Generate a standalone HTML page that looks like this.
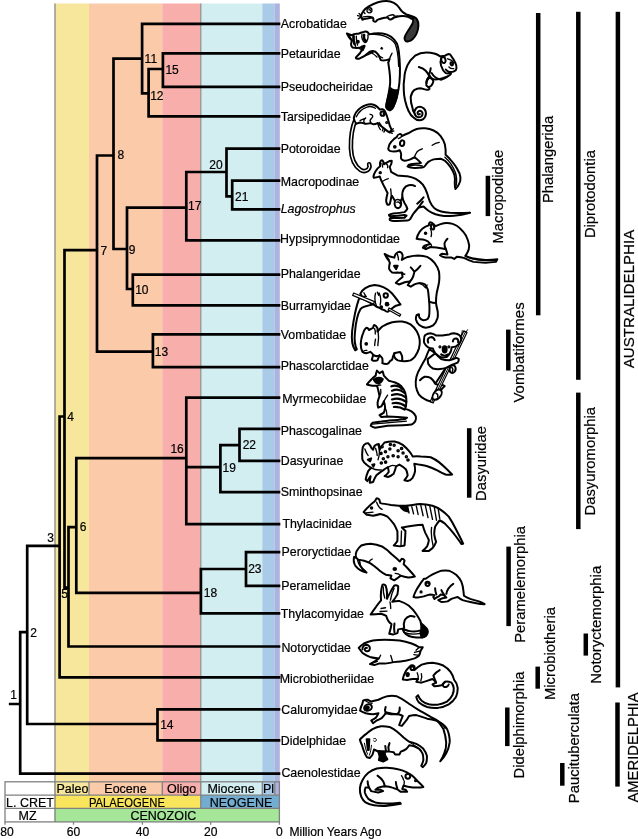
<!DOCTYPE html>
<html><head><meta charset="utf-8"><title>Marsupial phylogeny</title>
<style>
html,body{margin:0;padding:0;background:#fff;overflow:hidden;}
svg{display:block;font-family:"Liberation Sans",Arial,Helvetica,sans-serif;}
.t{font-size:12.4px;fill:#000;stroke:#000;stroke-width:0.2;}
.n{font-size:12px;fill:#000;stroke:#000;stroke-width:0.2;}
.r{font-size:14.8px;fill:#000;stroke:#000;stroke-width:0.2;}
.s{font-size:12.5px;fill:#000;stroke:#000;stroke-width:0.2;}
.x{font-size:12.1px;fill:#000;stroke:#000;stroke-width:0.2;}
.a path,.a ellipse,.a circle{stroke:#000;stroke-width:2;fill:#fff;stroke-linejoin:round;stroke-linecap:round;vector-effect:non-scaling-stroke;}
.a .k{fill:#000;}
.a .o{fill:none;}
.a .d{stroke-width:1.35;fill:none;}
</style></head><body>
<svg width="638" height="839" viewBox="0 0 638 839">
<rect width="638" height="839" fill="#fff"/>

<rect x="54.5" y="3.5" width="34.5" height="778.3" fill="#f6e79d"/>
<rect x="89" y="3.5" width="73.3" height="778.3" fill="#fbcaa9"/>
<rect x="162.3" y="3.5" width="38.5" height="778.3" fill="#f8aeaa"/>
<rect x="200.8" y="3.5" width="61.5" height="778.3" fill="#d3eef1"/>
<rect x="262.3" y="3.5" width="12.5" height="778.3" fill="#a9cbe8"/>
<rect x="274.8" y="3.5" width="5.0" height="778.3" fill="#adb2de"/>
<line x1="55" y1="3.5" x2="55" y2="781.8" stroke="#8c8c8c" stroke-width="1.3"/>
<line x1="200.8" y1="3.5" x2="200.8" y2="781.8" stroke="#8f8f8f" stroke-width="1.2"/>
<rect x="5" y="781.8" width="274.4" height="40.1" fill="#fff"/>
<rect x="54.5" y="781.8" width="34.5" height="13.3" fill="#f6e79d"/>
<rect x="89" y="781.8" width="73.3" height="13.3" fill="#fbcaa9"/>
<rect x="162.3" y="781.8" width="38.5" height="13.3" fill="#f8aeaa"/>
<rect x="200.8" y="781.8" width="61.5" height="13.3" fill="#d3eef1"/>
<rect x="262.3" y="781.8" width="12.5" height="13.3" fill="#a9cbe8"/>
<rect x="274.8" y="781.8" width="4.6" height="13.3" fill="#adb2de"/>
<rect x="54.5" y="795.1" width="146.3" height="13.3" fill="#f8e55c"/>
<rect x="200.8" y="795.1" width="78.6" height="13.3" fill="#72acd0"/>
<rect x="54.5" y="808.4" width="224.9" height="13.5" fill="#a5e699"/>
<g stroke="#808080" stroke-width="1.3" fill="none">
<rect x="5" y="781.8" width="274.4" height="40.1"/>
<line x1="5" y1="795.1" x2="279.4" y2="795.1"/><line x1="5" y1="808.4" x2="279.4" y2="808.4"/>
<line x1="55" y1="781.8" x2="55" y2="821.9"/>
<line x1="89" y1="781.8" x2="89" y2="795.1"/>
<line x1="162.3" y1="781.8" x2="162.3" y2="795.1"/>
<line x1="200.8" y1="781.8" x2="200.8" y2="795.1"/>
<line x1="262.3" y1="781.8" x2="262.3" y2="795.1"/>
<line x1="274.8" y1="781.8" x2="274.8" y2="795.1"/>
<line x1="200.8" y1="795.1" x2="200.8" y2="808.4"/>
<line x1="5" y1="821.9" x2="5" y2="824.6999999999999"/>
<line x1="73.5" y1="821.9" x2="73.5" y2="824.6999999999999"/>
<line x1="142.4" y1="821.9" x2="142.4" y2="824.6999999999999"/>
<line x1="210.7" y1="821.9" x2="210.7" y2="824.6999999999999"/>
<line x1="279.4" y1="821.9" x2="279.4" y2="824.6999999999999"/>
</g>
<text x="72.5" y="792.6" class="s" text-anchor="middle">Paleo</text>
<text x="125.5" y="792.6" class="s" text-anchor="middle">Eocene</text>
<text x="181.5" y="792.6" class="s" text-anchor="middle">Oligo</text>
<text x="231" y="792.6" class="s" text-anchor="middle">Miocene</text>
<text x="268.5" y="792.6" class="s" text-anchor="middle">Pl</text>
<text x="30" y="806.7" class="s" text-anchor="middle">L. CRET</text>
<text x="27.5" y="819.6" class="s" text-anchor="middle">MZ</text>
<text x="126.9" y="806.9" class="s" text-anchor="middle" textLength="76" lengthAdjust="spacingAndGlyphs">PALAEOGENE</text>
<text x="241" y="806.9" class="s" text-anchor="middle">NEOGENE</text>
<text x="163.4" y="820" class="s" text-anchor="middle">CENOZOIC</text>
<text x="0.2" y="835.7" class="x" text-anchor="start">80</text>
<text x="73.5" y="835.7" class="x" text-anchor="middle">60</text>
<text x="142.4" y="835.7" class="x" text-anchor="middle">40</text>
<text x="210.7" y="835.7" class="x" text-anchor="middle">20</text>
<text x="279.4" y="835.7" class="x" text-anchor="middle">0</text>
<text x="289.4" y="835.7" class="x" text-anchor="start">Million Years Ago</text>
<g stroke="#000" stroke-width="2.7" stroke-linecap="square" fill="none">
<path d="M10.2 704L20.2 704M20.2 632.1L20.2 773.7M20.2 773.7L279 773.7M20.2 632.1L27.2 632.1M27.2 545.9L27.2 724M27.2 545.9L59.6 545.9M27.2 724L157.5 724M157.5 709.3L157.5 740.4M157.5 709.3L279 709.3M157.5 740.4L279 740.4M59.6 416.5L59.6 677.4M59.6 677.4L279 677.4M59.6 416.5L64.5 416.5M64.5 250.1L64.5 587.7M64.5 250.1L97 250.1M64.5 587.7L68.5 587.7M68.5 527.1L68.5 646.5M68.5 646.5L279 646.5M68.5 527.1L76.3 527.1M76.3 458.2L76.3 592.9M76.3 458.2L186.3 458.2M76.3 592.9L200.9 592.9M186.3 397.6L186.3 524.1M186.3 397.6L279 397.6M186.3 524.1L279 524.1M186.3 467.1L220.4 467.1M220.4 445.1L220.4 492.2M220.4 492.2L279 492.2M220.4 445.1L239.5 445.1M239.5 428.8L239.5 460.9M239.5 428.8L279 428.8M239.5 460.9L279 460.9M200.9 569L200.9 613.4M200.9 613.4L279 613.4M200.9 569L246 569M246 552.2L246 585.8M246 552.2L279 552.2M246 585.8L279 585.8M97 155.5L97 351.7M97 155.5L113.5 155.5M97 351.7L152.9 351.7M152.9 334.4L152.9 367.1M152.9 334.4L279 334.4M152.9 367.1L279 367.1M113.5 58.7L113.5 249M113.5 58.7L142.1 58.7M113.5 249L127 249M142.1 23.8L142.1 93.3M142.1 23.8L279 23.8M142.1 93.3L148.6 93.3M148.6 69L148.6 116.3M148.6 116.3L279 116.3M148.6 69L162.9 69M162.9 53.4L162.9 86.8M162.9 53.4L279 53.4M162.9 86.8L279 86.8M127 207.7L127 289M127 207.7L186.3 207.7M127 289L132.8 289M132.8 274.6L132.8 305.3M132.8 274.6L279 274.6M132.8 305.3L279 305.3M186.3 172L186.3 240.3M186.3 240.3L279 240.3M186.3 172L226.5 172M226.5 148.7L226.5 196.4M226.5 148.7L279 148.7M226.5 196.4L232.2 196.4M232.2 180.7L232.2 209.3M232.2 180.7L279 180.7M232.2 209.3L279 209.3"/>
</g>
<text x="10.3" y="698.5" class="n" text-anchor="start">1</text>
<text x="30.3" y="636.8" class="n" text-anchor="start">2</text>
<text x="47.2" y="541.9" class="n" text-anchor="start">3</text>
<text x="67.2" y="420.8" class="n" text-anchor="start">4</text>
<text x="61.2" y="598.4" class="n" text-anchor="start">5</text>
<text x="79.8" y="531.1" class="n" text-anchor="start">6</text>
<text x="100.4" y="255.1" class="n" text-anchor="start">7</text>
<text x="117.4" y="158.5" class="n" text-anchor="start">8</text>
<text x="128.8" y="254.4" class="n" text-anchor="start">9</text>
<text x="135.2" y="294" class="n" text-anchor="start">10</text>
<text x="144.6" y="63.2" class="n" text-anchor="start">11</text>
<text x="150.2" y="99.6" class="n" text-anchor="start">12</text>
<text x="154.8" y="356" class="n" text-anchor="start">13</text>
<text x="160.2" y="728.6" class="n" text-anchor="start">14</text>
<text x="165.4" y="74.2" class="n" text-anchor="start">15</text>
<text x="170.4" y="453.1" class="n" text-anchor="start">16</text>
<text x="188" y="210" class="n" text-anchor="start">17</text>
<text x="203.8" y="596.8" class="n" text-anchor="start">18</text>
<text x="222.6" y="471.9" class="n" text-anchor="start">19</text>
<text x="209.3" y="169.3" class="n" text-anchor="start">20</text>
<text x="235.1" y="201.4" class="n" text-anchor="start">21</text>
<text x="242.7" y="449.3" class="n" text-anchor="start">22</text>
<text x="248.2" y="573" class="n" text-anchor="start">23</text>
<text x="280.7" y="28.1" class="t" text-anchor="start">Acrobatidae</text>
<text x="280.7" y="57.7" class="t" text-anchor="start">Petauridae</text>
<text x="280.7" y="91.1" class="t" text-anchor="start">Pseudocheiridae</text>
<text x="280.7" y="120.6" class="t" text-anchor="start">Tarsipedidae</text>
<text x="280.7" y="152.6" class="t" text-anchor="start">Potoroidae</text>
<text x="280.7" y="185.6" class="t" text-anchor="start">Macropodinae</text>
<text x="280.7" y="213.0" class="t" text-anchor="start" font-style="italic">Lagostrophus</text>
<text x="280.1" y="243.3" class="t" text-anchor="start">Hypsiprymnodontidae</text>
<text x="280.7" y="278.0" class="t" text-anchor="start">Phalangeridae</text>
<text x="280.7" y="309.6" class="t" text-anchor="start">Burramyidae</text>
<text x="280.7" y="338.7" class="t" text-anchor="start">Vombatidae</text>
<text x="280.7" y="370.1" class="t" text-anchor="start">Phascolarctidae</text>
<text x="282.3" y="402.7" class="t" text-anchor="start">Myrmecobiidae</text>
<text x="280.7" y="435.3" class="t" text-anchor="start">Phascogalinae</text>
<text x="280.7" y="465.3" class="t" text-anchor="start">Dasyurinae</text>
<text x="280.7" y="495.6" class="t" text-anchor="start">Sminthopsinae</text>
<text x="282.4" y="528.0" class="t" text-anchor="start">Thylacinidae</text>
<text x="281.6" y="556.1" class="t" text-anchor="start">Peroryctidae</text>
<text x="281.2" y="590.1" class="t" text-anchor="start">Peramelidae</text>
<text x="280.7" y="617.7" class="t" text-anchor="start">Thylacomyidae</text>
<text x="281.4" y="651.5" class="t" text-anchor="start">Notoryctidae</text>
<text x="279.8" y="682.8" class="t" text-anchor="start">Microbiotheriidae</text>
<text x="281.3" y="713.6" class="t" text-anchor="start">Caluromyidae</text>
<text x="280.7" y="745.2" class="t" text-anchor="start">Didelphidae</text>
<text x="281.4" y="777.3" class="t" text-anchor="start">Caenolestidae</text>
<rect x="485.65" y="175.8" width="4.5" height="40.3" fill="#000"/>
<rect x="535.95" y="13" width="4.5" height="302.3" fill="#000"/>
<rect x="576.05" y="11.8" width="4.5" height="368.0" fill="#000"/>
<rect x="615.65" y="11.8" width="4.5" height="675.6" fill="#000"/>
<rect x="506.05" y="329.6" width="4.5" height="40.9" fill="#000"/>
<rect x="576.05" y="392.6" width="4.5" height="136.5" fill="#000"/>
<rect x="466.95" y="428.2" width="4.5" height="69.5" fill="#000"/>
<rect x="506.35" y="546.6" width="4.5" height="79.5" fill="#000"/>
<rect x="535.45" y="666.6" width="4.5" height="22.1" fill="#000"/>
<rect x="583.55" y="633.5" width="4.5" height="22.1" fill="#000"/>
<rect x="505.05" y="707.5" width="4.5" height="38.6" fill="#000"/>
<rect x="560.05" y="763" width="4.5" height="22.7" fill="#000"/>
<rect x="615.25" y="702.5" width="4.5" height="84.1" fill="#000"/>
<text class="r" transform="translate(502.5 243.5) rotate(-90)">Macropodidae</text>
<text class="r" transform="translate(553.2 203.1) rotate(-90)">Phalangerida</text>
<text class="r" transform="translate(594.6 238.1) rotate(-90)">Diprotodontia</text>
<text class="r" style="font-size:15.1px" transform="translate(634 368.2) rotate(-90)">AUSTRALIDELPHIA</text>
<text class="r" style="font-size:15.05px" transform="translate(524.4 402.6) rotate(-90)">Vombatiformes</text>
<text class="r" transform="translate(594.6 515.5) rotate(-90)">Dasyuromorphia</text>
<text class="r" transform="translate(486.1 500.9) rotate(-90)">Dasyuridae</text>
<text class="r" transform="translate(524.6 642.8) rotate(-90)">Peramelemorphia</text>
<text class="r" transform="translate(554.5 700) rotate(-90)">Microbiotheria</text>
<text class="r" style="font-size:14.95px" transform="translate(600.9 683.7) rotate(-90)">Notoryctemorphia</text>
<text class="r" transform="translate(524.4 778.5) rotate(-90)">Didelphimorphia</text>
<text class="r" transform="translate(578.5 803.2) rotate(-90)">Paucituberculata</text>
<text class="r" transform="translate(638.4 802.6) rotate(-90)">AMERIDELPHIA</text>
<g class="a">
<!-- 1 Acrobatidae -->
<g transform="translate(350,0) scale(0.12539)">
<path d="M88,128 C95,100 115,70 150,50 C190,28 240,8 290,8 C340,8 375,35 395,65 C410,90 425,105 450,115 C480,125 505,130 525,145 L490,150 C470,132 440,128 420,128 C390,128 370,135 350,140 C340,150 320,162 310,150 C305,140 300,138 290,140 C260,145 235,150 215,160 C210,175 195,178 185,165 C190,150 185,140 175,140 C150,145 120,150 105,155 C95,150 88,140 88,128 Z"/>
<path class="k" style="fill:#383838" d="M497,138 C512,135 525,142 533,152 C552,178 548,230 530,270 C515,300 490,325 465,330 C445,335 430,320 436,298 C446,262 480,225 498,190 C506,172 504,152 497,138Z"/>
<circle cx="155" cy="82" r="20" style="stroke-width:1.3"/><path class="d" d="M150,78 C158,74 165,80 162,88"/>
<path class="d" d="M88,130 L60,124 M90,135 L66,150 M92,125 L72,108 M95,140 L98,160"/>
<path class="d" d="M112,100 L120,108 M105,135 C130,130 160,128 180,140 M290,140 C300,125 330,115 350,118 C345,128 355,130 380,128"/>
</g>

<!-- 2 Petauridae -->
<g transform="translate(340,25) scale(0.12539)">
<path d="M55,68 L92,82 C105,72 125,68 145,70 C160,62 175,58 190,55 C205,45 225,55 232,75 C260,68 300,62 340,68 C390,75 430,105 455,150 C472,190 476,260 478,340 C480,420 472,500 455,570 C445,610 425,660 400,680 C380,675 365,660 370,635 C378,590 395,530 400,460 C402,400 392,350 385,300 L395,272 C370,282 345,285 325,280 C318,265 312,245 300,230 C285,210 262,202 235,215 C215,235 185,255 150,270 C135,270 122,268 128,258 C150,240 170,215 185,178 C160,182 125,185 100,180 C88,170 85,150 95,125 C80,110 65,90 55,68Z"/>
<path class="k" d="M400,500 C410,515 440,525 463,518 C458,560 445,610 425,655 C415,672 405,680 398,680 C380,675 365,660 370,635 C378,590 395,545 400,500Z"/>
<path class="d" d="M105,95 C110,120 112,150 125,170 M130,90 C128,115 135,140 140,160 M175,75 C170,100 180,130 200,140 C220,130 228,100 222,80 M195,80 C190,100 195,115 205,120 M60,72 C75,85 85,100 95,120 M150,180 C160,195 175,200 190,180 M235,215 C260,225 280,240 295,255 M200,245 C230,235 255,225 270,210 M300,230 C310,245 320,255 340,262 M395,272 C400,250 410,235 415,225 M385,300 C388,292 392,282 395,272 M330,180 L336,192 M326,188 L340,184 M250,75 C320,68 400,95 440,150 C460,200 466,260 468,330"/>
<circle class="k" cx="142" cy="134" r="8"/>
<path class="o" style="stroke-width:2.6" d="M108,86 C106,110 108,132 116,152 M192,80 C188,100 194,120 208,130 M172,176 L194,168 L180,200"/>
</g>
<!-- 3 Pseudocheiridae -->
<g transform="translate(395,40) scale(0.12539)">
<path d="M250,100 C215,100 185,110 160,125 C130,150 110,180 100,200 C85,235 75,270 75,300 C68,340 68,370 70,400 C70,430 75,455 80,480 C88,515 98,545 110,570 C120,595 135,610 150,620 C165,635 180,640 195,640 C215,640 235,628 243,605 C250,585 245,560 228,545 C210,530 185,530 168,545 C155,560 152,580 160,595 C150,580 140,560 138,535 C130,515 125,480 125,455 C130,430 140,410 152,400 C170,390 185,385 200,385 C220,388 240,395 255,397 C268,398 278,392 275,385 C270,375 258,372 250,362 C245,345 250,330 257,318 C265,300 272,290 280,290 C285,300 292,308 300,310 C320,318 335,315 350,312 C375,308 400,298 420,290 C435,285 442,278 446,270 C448,262 444,256 440,255 C452,256 462,254 470,250 C482,245 490,238 490,228 C492,210 488,195 480,180 C472,160 462,145 450,130 C445,118 437,112 430,112 C420,113 410,118 400,125 C385,127 372,128 360,130 C345,120 332,114 320,110 C295,103 270,100 250,100Z"/>
<path class="o" d="M160,595 C168,615 190,622 207,612 C222,602 224,580 212,570 C200,560 183,565 180,580 C178,592 190,598 198,590"/>
<path class="o" d="M190,215 C215,222 232,230 245,245 C258,260 266,272 270,282 C278,262 283,242 285,225 M280,290 C262,300 250,320 252,345 M370,140 C360,165 362,185 368,205 C378,235 390,252 402,262 C415,268 428,268 440,265 M405,235 C415,250 430,255 440,255"/>
<path class="o" d="M254,326 C258,315 264,308 271,304 C280,302 288,304 293,308 C300,314 305,322 306,330 C303,345 297,356 289,365 C282,370 275,373 267,374 M293,264 C300,278 310,290 324,299 C338,308 352,314 367,317 C386,312 404,303 420,291"/>
<ellipse cx="386" cy="160" rx="17" ry="24" transform="rotate(-15 386 160)"/>
<ellipse cx="452" cy="190" rx="9" ry="13" transform="rotate(-20 452 190)"/>
<path class="d" d="M420,150 C440,155 462,165 470,185 M430,215 C440,225 455,230 468,228"/>
</g>
<!-- 4 Tarsipedidae -->
<g transform="translate(340,98) scale(0.12539)">
<path class="o" style="stroke-width:4.6" d="M125,170 C98,230 85,300 87,400 C90,480 120,545 165,575 C195,592 228,580 236,548 L232,528"/>
<path class="o" style="stroke-width:1.3;stroke:#fff" d="M125,170 C98,230 85,300 87,400 C90,480 120,545 165,575 C195,592 228,580 236,548 L232,528"/>
<path d="M110,160 C118,125 140,95 165,78 C195,58 225,48 250,50 C275,52 300,70 318,92 C330,85 350,90 358,105 C368,125 378,150 385,180 C392,210 402,238 412,255 L395,275 C382,268 370,258 360,250 C348,240 338,232 330,225 C320,215 310,205 300,200 C290,205 280,210 270,210 C258,208 250,202 240,200 C225,205 212,206 200,205 C185,200 172,196 160,195 C148,198 138,202 130,205 C118,190 112,175 110,160Z"/>
<circle cx="340" cy="125" r="17"/>
<path class="d" d="M345,120 C350,128 350,135 345,140 M130,150 C145,115 180,85 215,72 C240,64 262,68 282,82 M240,130 C262,132 268,150 252,162 C240,172 235,182 245,195 M205,160 C190,168 185,185 195,200 M160,180 C175,170 195,168 205,160 M300,200 C305,220 312,240 322,252 M330,225 C325,210 318,200 312,195 M395,270 L425,245 M398,272 L430,262 M392,272 L418,282 M360,250 L350,272 M345,240 L338,262"/>
<circle class="k" cx="372" cy="196" r="4"/>
</g>
<!-- 5 Potoroidae -->
<g transform="translate(380,122) scale(0.14107)">
<path d="M58,190 C60,170 68,152 80,140 C92,125 105,113 120,105 C122,95 128,88 138,86 C148,84 155,90 155,100 C172,92 188,85 200,80 C220,68 240,57 260,50 C280,44 300,43 320,45 C342,47 362,52 380,60 C402,70 418,85 430,100 C445,120 455,140 460,160 C465,185 467,210 465,232 C480,245 492,258 502,270 C520,290 535,310 547,332 C560,352 568,372 570,392 C572,410 568,426 560,440 C553,455 545,466 535,475 C530,460 530,445 530,430 C532,412 532,395 528,378 C522,358 512,338 500,320 C488,302 475,288 460,275 C450,268 440,263 430,260 C412,260 395,262 380,265 C365,270 352,277 340,285 C332,293 325,302 320,310 C315,318 308,322 300,322 C278,325 255,326 230,325 C215,323 203,320 195,315 C200,305 207,300 215,300 C235,298 255,296 270,295 L290,290 C282,282 276,276 270,270 C262,262 254,255 245,250 C235,255 225,260 215,265 C202,270 188,274 175,275 C163,273 155,268 150,260 C148,250 148,240 150,230 C148,218 145,208 140,200 C128,206 114,210 100,210 C88,210 78,208 70,205 C62,200 58,195 58,190Z"/>
<ellipse cx="157" cy="150" rx="15" ry="20" transform="rotate(10 157 150)"/>
<path class="d" d="M300,190 C280,195 265,205 258,218 C250,230 246,240 245,250 M370,165 C385,155 402,148 420,145 M460,250 C490,275 520,320 535,360 C545,390 545,420 540,450 M210,310 C240,305 275,305 300,312 M155,100 C150,108 140,115 130,118"/>
<circle class="k" cx="105" cy="176" r="6"/>
</g>
<!-- 6 Macropodinae -->
<g transform="translate(365,155) scale(0.14107)">
<path d="M60,152 C62,138 68,126 75,115 C85,100 95,88 107,80 C105,65 106,52 110,45 C116,35 124,36 128,45 C132,52 134,60 135,66 C145,58 152,54 160,50 C172,44 182,40 190,42 C190,58 184,72 175,85 C180,98 183,110 185,120 C200,130 215,138 230,145 C255,148 278,148 300,150 C322,154 342,160 360,170 C380,182 397,195 410,210 C424,230 434,250 440,270 C446,292 452,312 460,330 C468,348 478,363 490,375 C505,388 522,396 540,400 C560,405 580,408 600,410 C650,412 700,411 745,409 C705,420 668,427 630,430 C606,432 582,433 560,432 C538,430 518,426 500,420 C482,413 465,405 450,395 C438,386 426,376 415,365 L380,372 C366,388 352,404 340,420 C333,433 326,445 320,455 C314,462 307,465 300,465 C266,468 232,469 200,468 C190,467 180,464 175,460 C174,452 176,447 180,445 C214,446 248,446 280,445 L295,430 C290,427 285,425 280,425 C246,430 212,433 180,435 C174,433 170,430 170,425 C178,420 188,417 200,415 C228,412 255,409 280,405 C290,398 297,390 300,380 C296,366 288,352 280,340 C273,327 268,313 265,300 C262,310 258,318 252,324 C258,340 258,355 250,368 C240,378 226,378 216,368 C208,352 208,338 212,325 C205,312 198,300 192,290 L186,300 C183,316 180,332 176,346 C172,354 164,355 158,350 C152,340 150,330 150,320 C152,302 156,286 160,270 C152,256 146,243 140,230 C132,216 126,203 120,190 C113,177 108,163 105,152 C90,158 75,160 62,162Z"/>
<path class="o" d="M265,300 C262,275 266,255 275,240 C284,226 296,218 310,215 C326,212 342,214 355,220 M415,300 C400,318 385,333 370,345 M410,330 C398,345 388,358 380,372"/>
<path class="d" d="M120,190 C135,180 150,172 165,168 M186,300 C186,280 185,260 182,240 M150,60 C160,70 165,80 160,90 M120,60 C122,70 124,78 125,85 M225,335 C235,330 245,335 248,345 M212,325 C222,315 240,315 252,324"/>
<circle class="k" cx="108" cy="125" r="5"/>
</g>
<!-- 7 Hypsiprymnodontidae -->
<g transform="translate(408,212) scale(0.1489)">
<path d="M58,180 C62,160 70,144 80,130 C90,117 102,107 115,100 C124,96 132,93 140,90 C140,78 144,70 150,68 C160,68 168,76 175,85 L185,95 C204,86 222,79 240,75 C262,72 282,74 300,80 C320,87 337,97 350,110 C367,125 380,142 390,160 C400,180 407,200 410,220 C412,240 408,256 400,270 C396,280 391,288 385,295 C400,302 415,307 430,310 C460,316 490,320 520,322 C548,323 575,321 600,318 L590,335 C566,338 543,340 520,340 C492,340 465,338 440,335 C418,328 398,320 380,310 C362,305 346,302 330,300 L310,315 L290,305 C276,306 263,306 250,305 C236,302 224,297 215,290 C218,284 223,281 230,280 L265,285 C262,272 258,260 255,250 C236,246 218,243 200,240 C182,238 166,236 150,235 L120,250 L100,240 C103,233 108,228 115,225 L150,215 C144,207 137,200 130,195 C120,190 110,187 100,185 C85,184 70,183 58,180Z"/>
<path class="o" d="M265,180 C255,190 248,200 245,210 C244,225 248,238 255,250"/>
<ellipse class="o" cx="165" cy="100" rx="10" ry="18" transform="rotate(-15 165 100)"/>
<path class="d" d="M150,215 C158,218 160,225 155,235 M105,243 L125,232 M150,110 C158,125 160,145 155,165 M395,300 C430,320 500,330 590,326"/>
<circle class="k" cx="118" cy="143" r="5.5"/>
</g>
<!-- 8 Phalangeridae -->
<g transform="translate(375,245) scale(0.1489)">
<path d="M65,60 C75,65 85,70 95,75 C108,78 120,82 130,85 C132,75 135,66 140,60 C148,50 157,45 165,45 C175,48 182,55 185,65 C186,78 184,90 180,100 C193,92 206,85 220,80 C243,74 267,70 290,70 C312,71 332,74 350,80 C370,90 387,104 400,120 C414,138 424,158 430,180 C433,204 433,227 430,250 C426,274 420,297 415,320 C411,344 409,367 410,390 C412,408 416,424 420,440 C423,458 423,475 420,490 C414,512 404,528 390,540 C375,550 358,555 340,555 C322,552 307,545 295,535 C285,525 278,513 275,500 C274,488 276,478 280,470 L295,465 C295,475 296,483 300,490 C306,498 315,503 325,505 C337,505 347,502 355,495 C362,485 365,473 365,460 C366,440 366,420 365,400 C364,380 362,360 360,340 C359,326 357,313 355,300 C350,286 343,274 335,265 C324,258 312,255 300,255 C287,257 275,260 265,265 L240,280 L220,270 L235,245 C222,246 210,248 200,250 C186,255 173,260 160,265 L140,255 C146,247 153,240 160,235 L185,215 C184,205 182,195 180,185 C170,186 160,186 150,185 C138,186 126,186 115,185 C106,178 99,170 95,160 C94,146 96,133 100,120 C96,110 91,102 85,95 C78,84 71,72 65,60Z"/>
<path class="o" d="M240,150 C250,160 258,170 265,180 C280,168 293,155 305,140 M265,180 C262,192 258,204 255,215 C250,226 243,236 235,245 M368,382 C382,388 396,390 410,390"/>
<path class="d" d="M75,68 C82,80 88,90 95,100 M150,62 C155,75 158,88 158,100 M185,185 C190,195 195,200 200,195 M300,258 C315,262 328,272 340,288 C342,278 345,272 350,268"/>
<path class="k" d="M128,140 L152,140 L142,162Z"/>
</g>
<!-- 9 Burramyidae -->
<g transform="translate(345,280) scale(0.10189)">
<path d="M140,175 C110,260 85,380 70,500 C62,580 70,650 100,690 L116,680 C96,640 91,580 97,520 C105,420 126,330 152,285 C172,262 222,252 278,240 L215,200Z"/>
<path d="M150,135 C165,95 220,55 290,50 C360,55 420,90 460,130 C490,165 515,200 545,240 L500,252 C480,265 455,285 432,302 C420,316 400,312 390,297 C370,292 350,282 335,272 C318,266 300,256 285,242 L205,200 C180,180 160,158 150,135Z"/>
<path style="stroke-width:1.2" d="M85,128 L290,212 L280,236 L75,151Z"/>
<path style="stroke-width:1.2" d="M432,274 L547,338 L537,356 L424,292Z"/>
<circle cx="400" cy="152" r="21"/>
<circle class="k" cx="412" cy="237" r="13"/><circle class="k" cx="356" cy="266" r="9"/>
<path class="d" d="M300,130 C288,165 288,200 310,258 M335,128 C350,160 355,200 345,245 M318,120 L330,150 M185,125 L205,160 M210,160 L175,160 M405,245 C410,232 422,230 430,240"/>
</g>
<!-- 10 Vombatidae -->
<g transform="translate(340,275) scale(0.14107)">
<path d="M150,520 C146,500 146,480 150,460 C153,442 158,425 165,410 C168,398 173,388 180,380 C186,374 192,374 197,378 C201,382 204,386 205,390 C215,385 225,380 235,375 C235,366 237,358 242,354 C252,358 260,366 265,375 C267,384 267,392 265,400 C277,388 288,376 300,365 C322,352 345,342 370,335 C393,330 417,328 440,330 C462,333 482,340 500,350 C518,363 533,380 545,400 C555,418 562,438 565,460 C567,480 565,500 560,520 C553,543 543,563 530,580 C521,590 511,598 500,605 C480,610 460,612 440,610 C442,598 442,586 440,575 C436,563 431,553 425,545 C412,546 398,550 385,555 C378,570 373,585 370,600 L355,610 C350,620 343,627 335,630 C323,632 311,630 300,625 C302,613 302,601 300,590 C294,582 288,575 280,570 C275,582 270,594 265,605 C255,608 245,609 235,608 L225,600 C230,588 233,576 235,565 C230,557 223,550 215,545 C205,550 195,553 185,555 C175,553 167,550 160,545 C155,537 152,528 150,520Z"/>
<path class="o" d="M385,555 C380,575 390,595 410,605 C420,608 430,610 440,610 M235,565 C245,575 262,578 280,570"/>
<path class="d" d="M252,455 C248,470 246,485 246,500 M270,400 C275,430 275,465 268,500 M245,380 C250,392 252,405 250,418 M160,545 C170,535 180,532 190,535"/>
<circle class="k" cx="186" cy="488" r="6"/>
</g>
<!-- 11 Phascolarctidae -->
<g transform="translate(400,325) scale(0.11755)">
<path d="M250,205 C235,235 225,262 215,290 C198,318 183,345 170,370 C155,395 145,418 140,440 C133,468 132,495 135,520 C140,548 148,572 160,590 C175,610 192,622 210,630 C228,640 245,646 260,650 C280,645 292,634 300,620 L340,560 L380,520 C370,512 360,510 350,510 C330,510 313,507 300,500 C290,480 277,463 260,450 C243,442 226,438 210,440 C195,446 182,456 170,470 C182,456 195,446 210,440 C226,438 243,442 260,450 C277,463 290,480 300,500 L390,365 L300,240Z"/>
<path style="stroke-width:1.2" d="M543,50 L570,64 L282,664 L256,652Z"/>
<path class="d" style="stroke-width:1" d="M530,48 L522,95 M575,40 L560,62 M556,60 L270,658"/>
<path d="M235,290 C236,305 238,318 240,330 C250,348 263,362 280,370 C300,375 320,377 340,375 C357,373 374,370 390,365 C407,357 424,348 440,340 C457,334 474,327 490,320 C498,310 502,300 500,290 C494,282 487,279 480,280 C460,288 440,295 420,300 C396,300 372,297 350,290 C332,275 315,258 300,240Z"/>
<path d="M430,350 C445,338 460,340 468,352 C476,366 474,384 465,396 C455,408 440,410 430,402 C420,392 420,365 430,350Z"/>
<path d="M300,565 C318,545 340,545 352,560 C362,578 350,605 332,620 C315,634 292,640 280,630 C270,615 282,585 300,565Z"/>
<path class="d" d="M440,360 C450,370 452,385 445,395 M305,580 C318,585 325,598 320,612"/>
<path d="M205,120 C203,105 207,93 215,85 C228,75 243,70 260,70 C278,73 295,80 310,90 C327,88 343,88 360,90 C380,85 400,82 420,80 C433,73 446,70 460,70 C480,72 497,79 510,90 C518,102 522,115 520,130 C512,152 498,168 480,180 C467,186 453,189 440,190 C438,204 435,217 430,230 C422,246 412,260 400,270 C383,276 366,277 350,275 C330,266 313,254 300,240 C290,228 283,214 280,200 C265,199 252,196 240,190 C224,180 212,166 205,150 C203,140 203,130 205,120Z"/>
<path class="o" d="M240,150 C232,130 238,112 255,105 C272,100 288,110 295,128 M450,140 C452,122 465,112 480,115 C492,120 498,132 495,148"/>
<ellipse class="k" cx="380" cy="207" rx="17" ry="27"/>
<circle class="k" cx="340" cy="186" r="5"/><circle class="k" cx="416" cy="186" r="5"/>
<path class="o" d="M350,250 C365,262 392,262 408,250"/>
</g>
<!-- 12 Myrmecobiidae -->
<g transform="translate(350,365) scale(0.12539)">
<path d="M135,155 C146,140 158,127 170,115 C182,104 193,94 205,85 C207,70 210,57 215,45 L235,65 L260,50 C265,62 268,74 270,85 C283,100 296,113 310,125 C327,129 344,134 360,140 C380,148 397,158 410,170 C424,185 434,202 440,220 C447,243 450,266 450,290 C449,311 446,331 440,350 C458,354 475,361 490,370 C507,381 519,394 525,410 C528,425 526,438 520,450 C512,462 502,470 490,475 C467,478 444,480 420,480 C380,482 340,483 300,485 C266,490 233,495 200,500 C186,497 174,492 165,485 C167,474 172,466 180,460 C203,456 226,452 250,450 C283,446 317,443 350,440 C380,437 410,434 440,430 L455,420 C403,415 351,412 300,410 L250,415 L235,400 C248,394 260,387 270,380 C275,367 278,354 280,340 C279,323 276,306 270,290 C265,305 258,318 250,330 L225,340 C221,327 219,313 220,300 C223,283 228,266 235,250 C233,233 230,216 225,200 C222,188 219,176 215,165 C203,166 191,166 180,165 C165,163 150,160 135,155Z"/>
<path class="o" style="stroke-width:2.2" d="M330,170 C360,160 392,168 418,190 M335,205 C368,190 405,196 435,222 M335,240 C372,225 412,232 445,258 M335,275 C375,262 415,270 448,295 M340,305 C378,298 415,308 444,330 M350,335 C380,332 410,340 436,355"/>
<path class="k" d="M190,118 C212,100 240,100 262,112 C258,128 245,140 228,148 C212,145 198,135 190,118Z"/>
<path class="d" d="M235,250 C245,235 250,215 245,195 M270,290 C280,270 290,255 300,240 M280,340 C290,360 295,385 295,405 M180,472 C260,462 360,455 450,448 M215,165 C225,160 235,158 245,160"/>
</g>
<!-- 13 Dasyuridae -->
<g transform="translate(355,435) scale(0.16458)">
<path d="M45,90 C46,76 50,66 55,60 C63,52 72,49 80,50 C90,58 96,68 100,80 L110,90 C112,80 115,72 120,65 C128,58 137,55 145,55 C150,66 151,78 150,90 C158,72 168,57 180,45 C200,40 220,38 240,40 C258,44 275,51 290,60 C305,72 318,85 330,100 C338,110 345,120 350,130 C367,129 384,129 400,130 C420,130 440,132 460,135 C478,143 495,153 510,165 C528,180 545,195 560,210 L590,240 C576,242 563,242 550,240 C533,233 516,225 500,215 C480,206 460,197 440,190 C423,186 406,183 390,180 L360,175 C364,190 366,205 365,220 C362,235 357,248 350,260 C342,270 332,277 320,280 L300,275 C308,266 315,256 320,245 C318,232 315,220 310,210 C298,198 285,188 270,180 L250,190 C246,206 241,221 235,235 C225,244 213,251 200,255 L180,250 C190,243 198,235 205,225 C204,214 202,204 200,195 C190,200 180,207 170,215 C156,224 143,234 130,245 C122,258 115,272 110,285 L90,290 C90,276 92,263 95,250 C88,260 81,270 75,280 L65,270 C68,252 73,235 80,220 C86,212 93,205 100,200 C88,195 78,188 70,180 C58,172 50,162 45,150 C43,130 43,110 45,90Z"/>
<path class="d" d="M60,85 C65,100 72,115 80,125 M125,80 C130,95 135,110 135,125 M100,200 C115,210 135,215 160,212 M140,60 C150,85 150,120 140,150 M205,195 C215,185 230,180 250,190"/>
<path class="k" d="M78,150 L98,142 L92,160Z M105,180 L118,178 L112,192Z"/>
<g class="k"><circle cx="165" cy="72" r="4.5"/><circle cx="185" cy="102" r="5"/><circle cx="212" cy="85" r="4.5"/><circle cx="238" cy="62" r="4.5"/><circle cx="262" cy="96" r="5"/><circle cx="232" cy="126" r="5"/><circle cx="200" cy="132" r="4.5"/><circle cx="172" cy="145" r="4.5"/><circle cx="262" cy="132" r="4.5"/><circle cx="292" cy="110" r="4.5"/><circle cx="312" cy="132" r="4.5"/><circle cx="186" cy="165" r="5"/><circle cx="158" cy="112" r="5"/><circle cx="283" cy="82" r="5"/><circle cx="322" cy="152" r="5"/><circle cx="215" cy="58" r="5"/><circle cx="160" cy="170" r="5"/></g>
</g>
<!-- 14 Thylacinidae -->
<g transform="translate(355,495) scale(0.18025)">
<path d="M48,95 C56,84 65,74 75,65 C86,54 98,44 110,35 L120,18 C127,18 132,21 135,25 L140,45 C160,49 180,52 200,55 C227,58 253,60 280,60 C307,57 333,53 360,50 C385,50 408,54 430,60 C448,66 465,74 480,85 C495,95 508,107 520,120 C535,142 548,166 560,190 C574,217 588,244 600,270 L590,272 C576,250 560,230 545,210 C531,192 516,176 500,160 C490,152 480,145 470,140 C460,151 452,163 445,175 C441,190 439,205 440,220 C442,234 445,247 450,260 C445,273 438,285 430,295 L410,310 L375,310 C385,303 393,294 400,285 C405,274 408,262 410,250 C404,236 397,223 390,210 C384,195 379,180 375,165 C357,166 338,168 320,170 C300,173 280,176 260,180 L280,200 C279,227 277,254 275,280 L250,285 L215,280 C223,272 230,264 235,255 C236,237 236,218 235,200 C229,186 223,173 215,160 C204,146 193,132 180,120 C167,113 154,108 140,105 C127,109 114,112 100,115 C88,114 76,112 65,110Z"/>
<path class="d" d="M290,68 L300,100 M315,65 L325,105 M340,60 L350,108 M365,58 L378,115 M390,58 L405,125 M415,62 L430,135 M440,68 L452,140 M462,78 L470,130 M258,200 L255,280 M425,180 C420,215 425,250 435,290 M60,100 L100,95 M120,40 C125,55 130,70 150,80"/>
<path class="k" d="M250,62 L290,62 L296,92 C275,90 260,78 250,62Z"/>
<circle class="k" cx="92" cy="72" r="4"/>
</g>
<!-- 15 Peroryctidae -->
<g transform="translate(350,538) scale(0.18809)">
<path d="M22,100 C18,115 20,135 30,150 C42,165 62,178 88,184 C72,172 60,160 54,146 C52,132 50,122 48,114Z"/>
<path d="M35,70 C42,58 50,48 60,40 C76,33 93,30 110,30 C132,32 152,37 170,45 C188,56 205,70 220,85 C236,98 251,111 265,125 L275,110 C282,110 287,114 290,120 L285,140 C294,148 302,156 310,165 C322,178 334,191 345,205 C333,208 321,210 310,210 C296,208 283,205 270,200 L250,215 L235,225 L215,215 L220,200 C210,199 200,197 190,195 C179,189 169,182 160,175 C150,167 140,158 130,150 C120,143 110,136 100,130 C90,126 80,122 70,120 C61,118 53,116 45,115 C30,108 28,88 35,70Z"/>
<path class="d" d="M40,118 C45,140 58,160 80,175 M100,130 C105,120 110,115 118,112 M270,200 C262,192 252,188 240,188"/>
<ellipse class="k" cx="238" cy="165" rx="7" ry="5"/>
</g>
<!-- 16 Peramelidae -->
<g transform="translate(405,560) scale(0.12539)">
<path d="M68,295 C72,279 78,264 85,250 C94,232 104,216 115,200 C123,188 131,176 140,165 L150,150 L165,150 C183,137 201,125 220,115 C243,103 266,93 290,85 C310,82 330,82 350,85 C372,93 392,105 410,120 C427,136 440,154 450,175 C458,196 463,218 465,240 C467,255 469,270 470,285 C486,295 503,303 520,310 C543,318 567,324 590,330 C606,336 621,343 635,352 C623,353 611,352 600,350 C573,346 546,341 520,335 C499,331 479,326 460,320 C446,313 432,305 420,295 C403,299 386,304 370,310 L340,330 C323,333 306,335 290,335 L265,320 C276,314 288,309 300,305 L330,300 C324,292 317,285 310,280 L285,275 L270,290 L250,300 L235,310 L225,295 L235,280 C223,277 211,275 200,275 C183,279 166,284 150,290 C133,294 116,298 100,300 C89,299 78,297 68,295Z"/>
<path class="o" d="M385,190 C368,200 355,214 345,230 C337,243 332,256 330,270 M240,225 C240,242 244,258 250,275 M290,240 C296,255 304,268 315,280"/>
<circle cx="180" cy="190" r="17"/><path class="d" d="M172,190 C175,182 185,180 190,188"/>
<circle class="k" cx="128" cy="255" r="5"/>
</g>
<!-- 17 Thylacomyidae -->
<g transform="translate(355,578) scale(0.1489)">
<path d="M320,345 C330,372 352,390 385,396 C410,400 432,400 450,400 L445,340 C420,352 390,358 360,352 C345,350 332,348 320,345Z"/>
<path class="k" d="M440,300 C455,312 470,325 482,340 C492,355 490,375 478,388 C468,397 458,400 450,400 C440,385 438,365 442,345Z"/>
<path d="M105,245 C116,228 128,211 140,195 C151,179 163,164 175,150 C173,130 173,110 175,90 C177,73 180,58 185,45 C192,42 199,44 205,50 C211,66 214,83 215,100 L215,140 C221,126 228,113 235,100 C244,82 254,65 265,50 C274,47 283,49 290,55 C291,74 289,92 285,110 C275,128 263,145 250,160 C267,156 284,154 300,155 C322,162 342,172 360,185 C379,201 396,219 410,240 C421,256 431,273 440,290 C445,310 447,330 445,350 C420,360 390,362 360,355 C345,352 332,350 320,340 L290,345 L285,370 L255,380 L230,375 L235,355 C240,340 243,325 245,310 C237,304 230,297 225,290 C218,279 213,267 210,255 C199,249 187,244 175,240 C152,243 128,245 105,245Z"/>
<path class="o" d="M330,335 C326,315 328,297 335,280 C344,266 356,258 370,255 C381,254 391,256 400,260 M265,305 C262,325 262,345 265,365"/>
<path class="d" d="M190,60 C188,85 192,110 200,135 M262,70 C250,95 242,120 238,148 M175,205 L205,200 M168,225 L215,222 M235,160 C238,175 240,190 240,205 M330,365 C360,378 400,380 440,372"/>
</g>
<!-- 18 Notoryctidae -->
<g transform="translate(355,578) scale(0.1489)">
<path d="M25,470 C35,458 47,448 60,440 C79,431 99,424 120,420 C146,416 173,415 200,415 C234,415 267,417 300,420 C328,424 355,431 380,440 C398,447 415,455 430,465 L455,465 L440,490 C438,500 435,510 430,520 C422,528 412,535 400,540 C381,547 361,552 340,555 C314,559 287,562 260,565 C240,569 220,572 200,575 L160,575 L130,585 L100,578 C114,571 128,563 140,555 L160,540 C139,538 119,535 100,530 C85,525 72,518 60,510 C52,504 45,497 40,490Z"/>
<path class="o" d="M50,480 C48,462 60,448 78,448 C96,450 104,466 98,482 C92,494 76,496 68,486 C62,476 70,466 80,470"/>
<path class="d" d="M160,540 C165,532 170,525 172,518 M240,520 C245,535 250,550 252,562 M400,500 L440,490 M395,515 L432,520 M410,485 L428,468 M110,575 L150,560"/>
</g>
<!-- 19 Microbiotheriidae -->
<g transform="translate(355,652) scale(0.18025)">
<path d="M265,152 C268,137 273,123 280,110 C286,100 292,92 300,85 L310,75 C318,73 325,75 330,80 L330,100 C343,88 356,78 370,70 C390,63 410,60 430,60 C452,62 472,67 490,75 C506,84 520,96 530,110 C540,124 547,139 550,155 C562,168 568,183 570,200 C570,218 567,235 560,250 C550,267 537,280 520,290 C502,300 482,307 460,310 C440,311 420,310 400,305 C383,299 368,291 355,280 C347,271 342,261 340,250 L350,240 C355,252 361,262 370,270 C382,280 395,287 410,290 C427,293 444,294 460,292 C478,289 495,283 510,275 C523,266 533,254 540,240 C546,227 549,214 548,200 C546,188 542,178 535,170 C523,165 511,163 500,165 L480,185 C467,188 453,190 440,190 L430,180 L450,170 C444,162 437,155 430,150 C420,154 410,157 400,160 C388,164 377,168 365,170 L340,165 L350,150 C340,150 330,150 320,150 C310,152 300,154 290,155Z"/>
<path class="o" d="M470,100 C455,108 443,118 435,130 C438,142 443,152 450,170 M500,165 C488,172 484,185 492,192 C502,198 518,192 520,180"/>
<circle cx="318" cy="90" r="10"/>
<path class="d" d="M345,115 C350,125 352,135 350,150 M368,120 C372,132 372,145 365,160"/>
<ellipse class="k" cx="292" cy="125" rx="7" ry="9"/>
</g>
<!-- 20 Caluromyidae -->
<g transform="translate(355,652) scale(0.18025)">
<path d="M28,325 C30,312 34,300 40,290 L45,270 C54,265 62,263 70,265 L90,275 C104,271 117,268 130,265 C146,257 163,250 180,245 C197,242 214,242 230,245 C252,255 272,267 290,280 C310,294 330,307 350,320 C374,334 397,347 420,360 C438,368 455,378 470,390 C488,400 505,412 512,430 C522,455 527,480 525,503 C522,525 516,545 506,562 C497,579 486,594 473,606 C482,592 490,577 495,562 C503,543 507,523 506,503 C504,477 499,452 491,429 C480,410 468,392 455,381 C437,376 418,372 400,370 C380,362 360,356 340,350 C326,350 313,352 300,355 C294,366 288,376 280,385 L260,410 L245,405 L255,380 L265,355 C257,351 248,348 240,345 C226,345 213,345 200,345 L170,340 C164,349 158,357 150,365 C140,371 130,376 120,380 L100,395 L90,380 C99,376 108,371 115,365 C121,357 126,349 130,340 C120,343 110,344 100,345 C86,345 73,343 60,340 C48,336 38,331 28,325Z"/>
<path class="o" d="M235,345 C245,335 250,322 248,308 M170,340 C165,328 165,316 170,305 M175,335 C195,340 215,344 235,345"/>
<ellipse cx="72" cy="308" rx="22" ry="17" transform="rotate(-20 72 308)"/>
<ellipse class="k" cx="68" cy="310" rx="9" ry="7" transform="rotate(-20 68 310)"/>
<path class="d" d="M60,272 C70,280 80,285 95,285 M450,380 C470,385 490,400 500,425"/>
</g>
<!-- 21 Didelphidae -->
<g transform="translate(350,722) scale(0.14107)">
<path d="M70,125 C76,117 83,110 90,105 C99,96 109,87 120,80 C132,69 146,59 160,50 C179,40 199,33 220,30 C241,29 261,31 280,35 C298,43 315,53 330,65 C348,79 364,94 380,110 C393,121 406,131 420,140 C437,144 454,149 470,155 C489,164 506,176 520,190 C532,205 540,222 545,240 C546,258 545,275 540,290 C533,302 525,312 515,320 L505,310 C512,297 517,284 520,270 C520,254 519,239 515,225 C508,212 500,200 490,190 C478,182 464,175 450,170 L420,165 C414,174 408,183 400,190 C388,198 374,205 360,210 L350,230 L320,230 L310,215 C300,213 290,211 280,210 L250,210 L200,210 C190,204 180,199 170,195 C167,207 164,219 160,230 C154,240 147,248 140,255 L120,250 C112,237 105,224 100,210 C94,195 89,180 85,165 C79,152 74,139 70,125Z"/>
<path class="k" d="M200,205 L245,210 L250,240 L265,265 L235,280 L205,270 L210,245Z M118,122 L137,122 L133,198 L126,198Z"/>
<path class="o" d="M280,150 C272,165 270,185 275,205 M250,170 C252,185 254,198 255,210"/>
<path class="d" style="stroke-width:1" d="M102,150 C106,178 114,204 124,228 M152,165 C150,190 146,212 138,235 M168,118 C180,112 190,120 186,131 C182,140 172,141 167,134 M420,142 C450,160 480,178 505,200"/>
</g>
<!-- 22 Caenolestidae -->
<g transform="translate(350,722) scale(0.14107)">
<path d="M520,460 C507,446 493,433 480,420 C467,406 454,392 440,380 C427,370 414,362 400,355 C381,346 361,339 340,335 C314,329 287,326 260,325 C236,324 213,326 190,330 C168,337 148,347 130,360 C113,374 100,391 90,410 C79,429 72,449 70,470 C69,491 72,511 80,530 C87,546 97,559 110,570 C128,581 148,588 170,590 C196,594 223,596 250,595 C287,592 324,587 360,580 L355,572 C320,576 285,578 250,578 C226,577 203,575 180,570 C161,564 144,556 130,545 C118,532 110,517 105,500 C103,488 105,476 110,465 L135,465 L150,490 C167,495 183,498 200,500 L235,490 L215,480 L180,480 L200,465 C217,460 233,457 250,455 C267,457 284,460 300,465 C314,469 327,474 340,480 L360,495 L405,495 L395,480 L370,475 L380,450 C393,454 407,458 420,460 C437,463 454,465 470,465 C487,464 504,463 520,460Z"/>
<path class="o" d="M195,380 C212,392 226,405 235,420 C241,431 245,443 245,455 M325,425 C326,440 330,456 335,470 M125,420 C125,435 128,450 135,465"/>
<circle cx="410" cy="385" r="17"/>
<path class="d" d="M365,380 C372,390 378,400 380,412 M385,420 C385,432 384,442 380,450"/>
<circle class="k" cx="465" cy="416" r="4"/>
</g>

</g>
</svg></body></html>
